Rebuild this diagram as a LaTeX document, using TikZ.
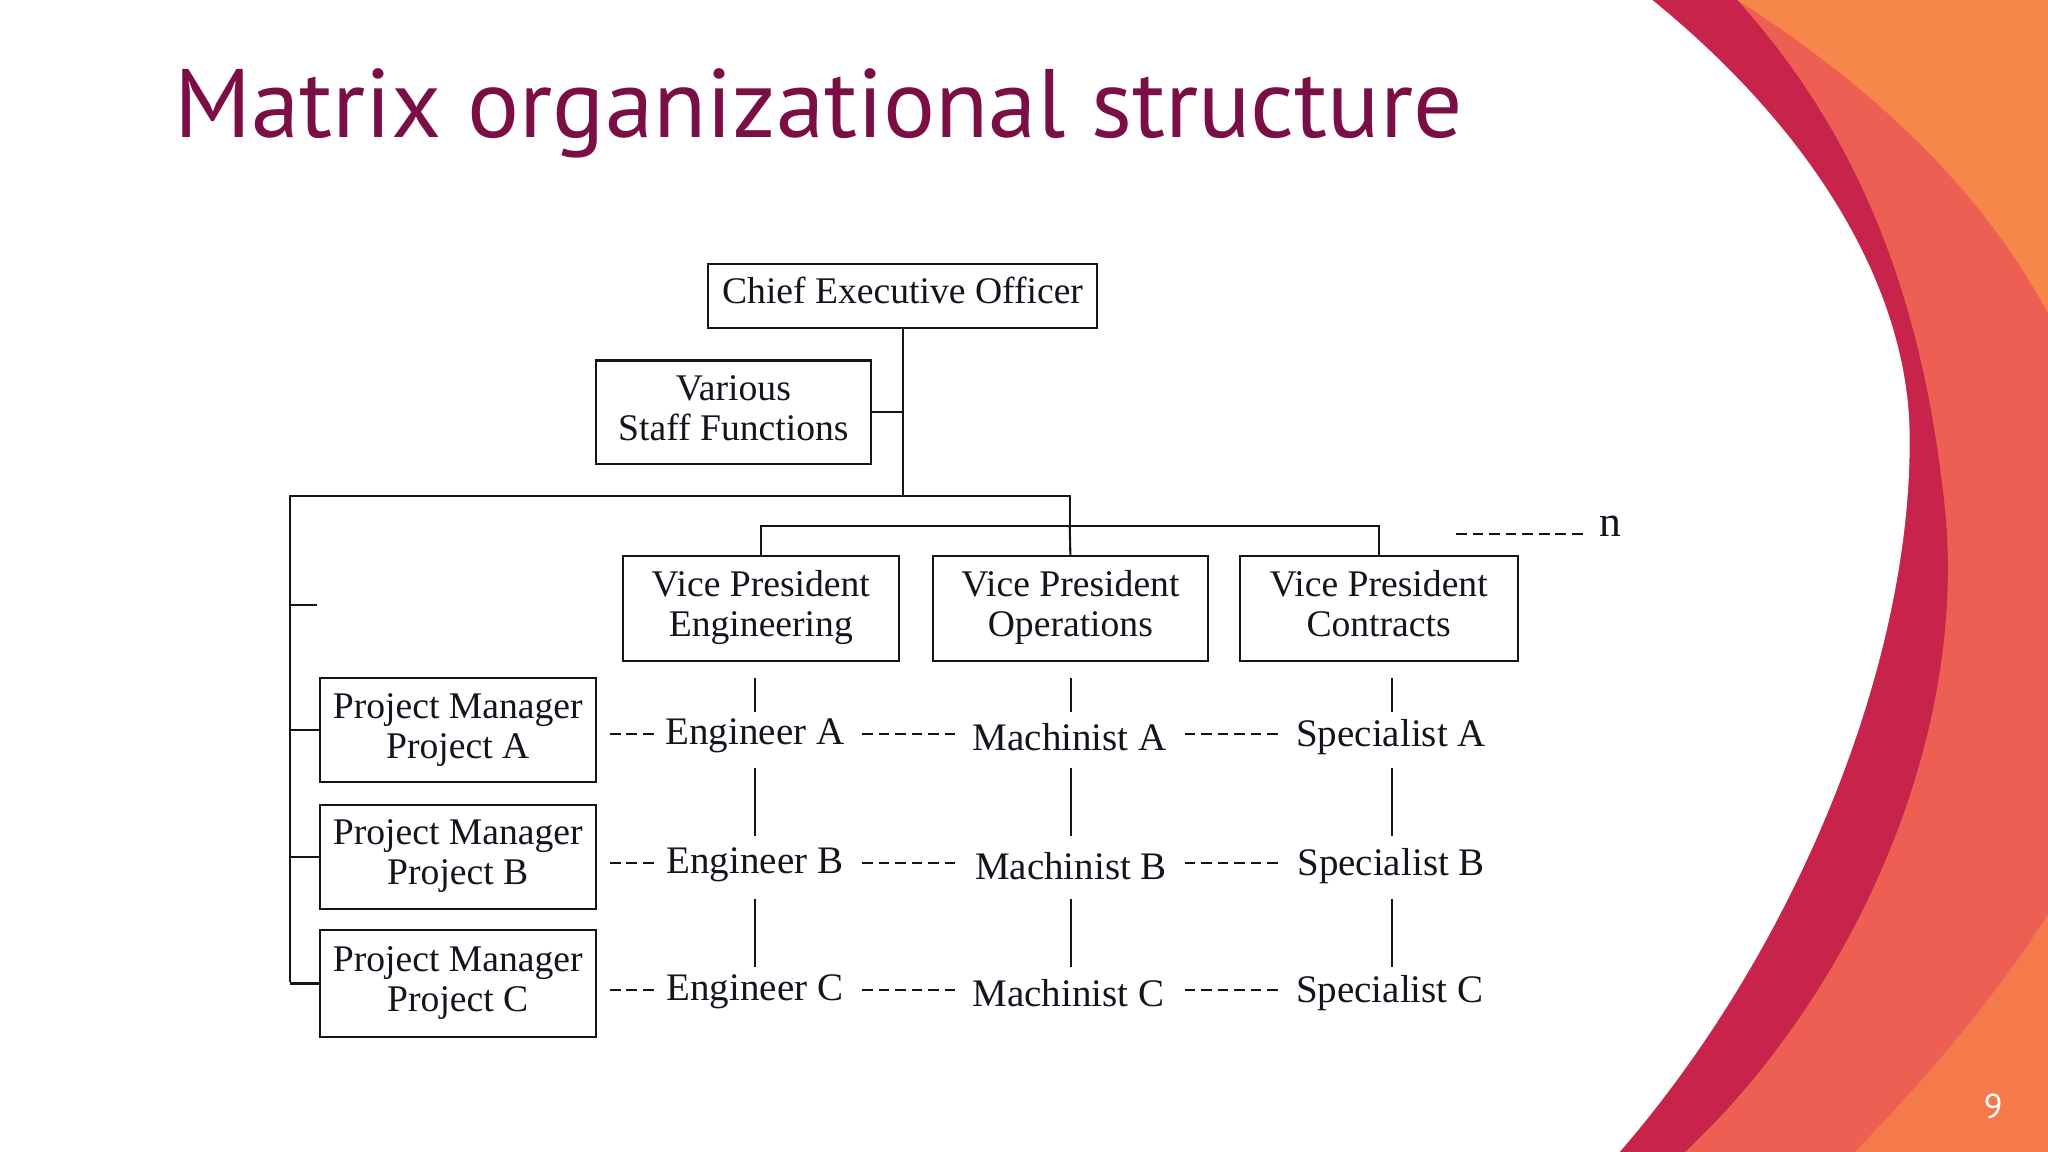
\documentclass[tikz,border=0pt]{standalone}
\usepackage{fontspec}
\setmainfont{Liberation Serif}
\newfontfamily\titlefont{PT Sans}
\usetikzlibrary{positioning}
\definecolor{titlec}{HTML}{7A0E45}
\definecolor{crim}{HTML}{C8234A}
\definecolor{coral}{HTML}{EC5F52}
\definecolor{orng}{HTML}{F7864A}
\definecolor{ink}{HTML}{14141E}
\begin{document}
\begin{tikzpicture}[x=0.02cm,y=-0.02cm,
  orgbox/.style={draw=ink,line width=0.9pt,inner sep=0pt,align=center,font=\fontsize{16.4}{17.5}\selectfont,text=ink},
  staff/.style={font=\fontsize{17}{17}\selectfont,text=ink,inner sep=1pt},
  ln/.style={draw=ink,line width=0.9pt},
  dsh/.style={draw=ink,line width=0.9pt,dash pattern=on 4.6pt off 2.6pt}]
\useasboundingbox (0,0) rectangle (1568,882);
\fill[white] (0,0) rectangle (1568,882);
% decoration
\fill[coral] (1265,0) -- (1568,0) -- (1568,882) -- (1240,882) -- cycle;
\fill[orng] (1330,0) .. controls (1440,70) and (1520,150) .. (1568,240) -- (1568,0) -- cycle;
\fill[orng!70!coral] (1568,700) -- (1568,882) -- (1420,882) .. controls (1480,820) and (1530,760) .. (1568,700);
\fill[crim] (1265,0) -- (1330,0) .. controls (1420,100) and (1470,220) .. (1488,380) .. controls (1510,560) and (1420,760) .. (1290,882) -- (1240,882) -- cycle;
\fill[white] (1265,0) .. controls (1400,110) and (1460,230) .. (1462,330) .. controls (1465,500) and (1380,720) .. (1240,882) -- (0,882) -- (0,0) -- cycle;
\node[anchor=base west,inner sep=0pt,text=titlec,font=\titlefont\fontsize{42.4}{42.4}\selectfont] (title) at (133,105) {Matrix organizational structure};
\node[text=white,font=\titlefont\fontsize{15}{15}\selectfont] (pg) at (1526,847) {9};
% boxes
\node[orgbox,minimum width=5.96cm,minimum height=0.98cm] (ceo) at (691,226.5) {\strut Chief Executive Officer};
\node[orgbox,minimum width=4.22cm,minimum height=1.58cm] (sf) at (561.5,315.5) {\strut Various\\\strut Staff Functions};
\node[orgbox,minimum width=4.22cm,minimum height=1.6cm] (vpe) at (582.5,466) {\strut Vice President\\\strut Engineering};
\node[orgbox,minimum width=4.22cm,minimum height=1.6cm] (vpo) at (819.5,466) {\strut Vice President\\\strut Operations};
\node[orgbox,minimum width=4.26cm,minimum height=1.6cm] (vpc) at (1055.5,466) {\strut Vice President\\\strut Contracts};
\node[orgbox,minimum width=4.22cm,minimum height=1.6cm] (pma) at (350.5,559) {\strut Project Manager\\\strut Project A};
\node[orgbox,minimum width=4.22cm,minimum height=1.6cm] (pmb) at (350.5,656) {\strut Project Manager\\\strut Project B};
\node[orgbox,minimum width=4.22cm,minimum height=1.64cm] (pmc) at (350.5,753) {\strut Project Manager\\\strut Project C};
% staff
\node[staff] (ea) at (578,563) {Engineer A};
\node[staff] (eb) at (578,662) {Engineer B};
\node[staff] (ec) at (578,759) {Engineer C};
\node[staff] (ma) at (819,564) {Machinist A};
\node[staff] (mb) at (820,663) {Machinist B};
\node[staff] (mc) at (818,760) {Machinist C};
\node[staff] (sa) at (1065,564) {Specialist A};
\node[staff] (sb) at (1065,663) {Specialist B};
\node[staff] (sc) at (1064,760) {Specialist C};
\node[staff,font=\fontsize{19}{19}\selectfont] (n) at (1233,403) {n};
% coordinates
\coordinate (j1) at (691,380);
\coordinate (lt) at (222,380);
\coordinate (lb) at (222,752);
\coordinate (j2) at (819,380);
\coordinate (j3) at (819,403);
\coordinate (tk) at (243,463);
\coordinate (ds1) at (1115,409);
\coordinate (ds2) at (1215,409);
% tree lines
\draw[ln] (ceo.south) -- (j1);
\draw[ln] (sf.east) -- (sf.east -| j1);
\draw[ln] (lb) -- (lt) -- (j2) -- (j3);
\draw[ln] (vpe.north) |- (j3) -| (vpc.north);
\draw[ln] (j3) -- (vpo.north);
\draw[ln] (tk) -- (tk -| lt);
\foreach \p in {pma,pmb,pmc} \draw[ln] (\p.west) -- (\p.west -| lt);
\draw[dsh] (ds1) -- (ds2);
% verticals
\foreach \x in {578,820,1066}{
  \draw[ln] (\x,519) -- (\x,545);
  \draw[ln] (\x,588) -- (\x,640);
  \draw[ln] (\x,688) -- (\x,740);
}
% dashed row links
\foreach \y in {562,661,758}{
  \draw[dsh] (467,\y) -- (501,\y);
  \draw[dsh] (660,\y) -- (733,\y);
  \draw[dsh] (907,\y) -- (979,\y);
}
\end{tikzpicture}
\end{document}
